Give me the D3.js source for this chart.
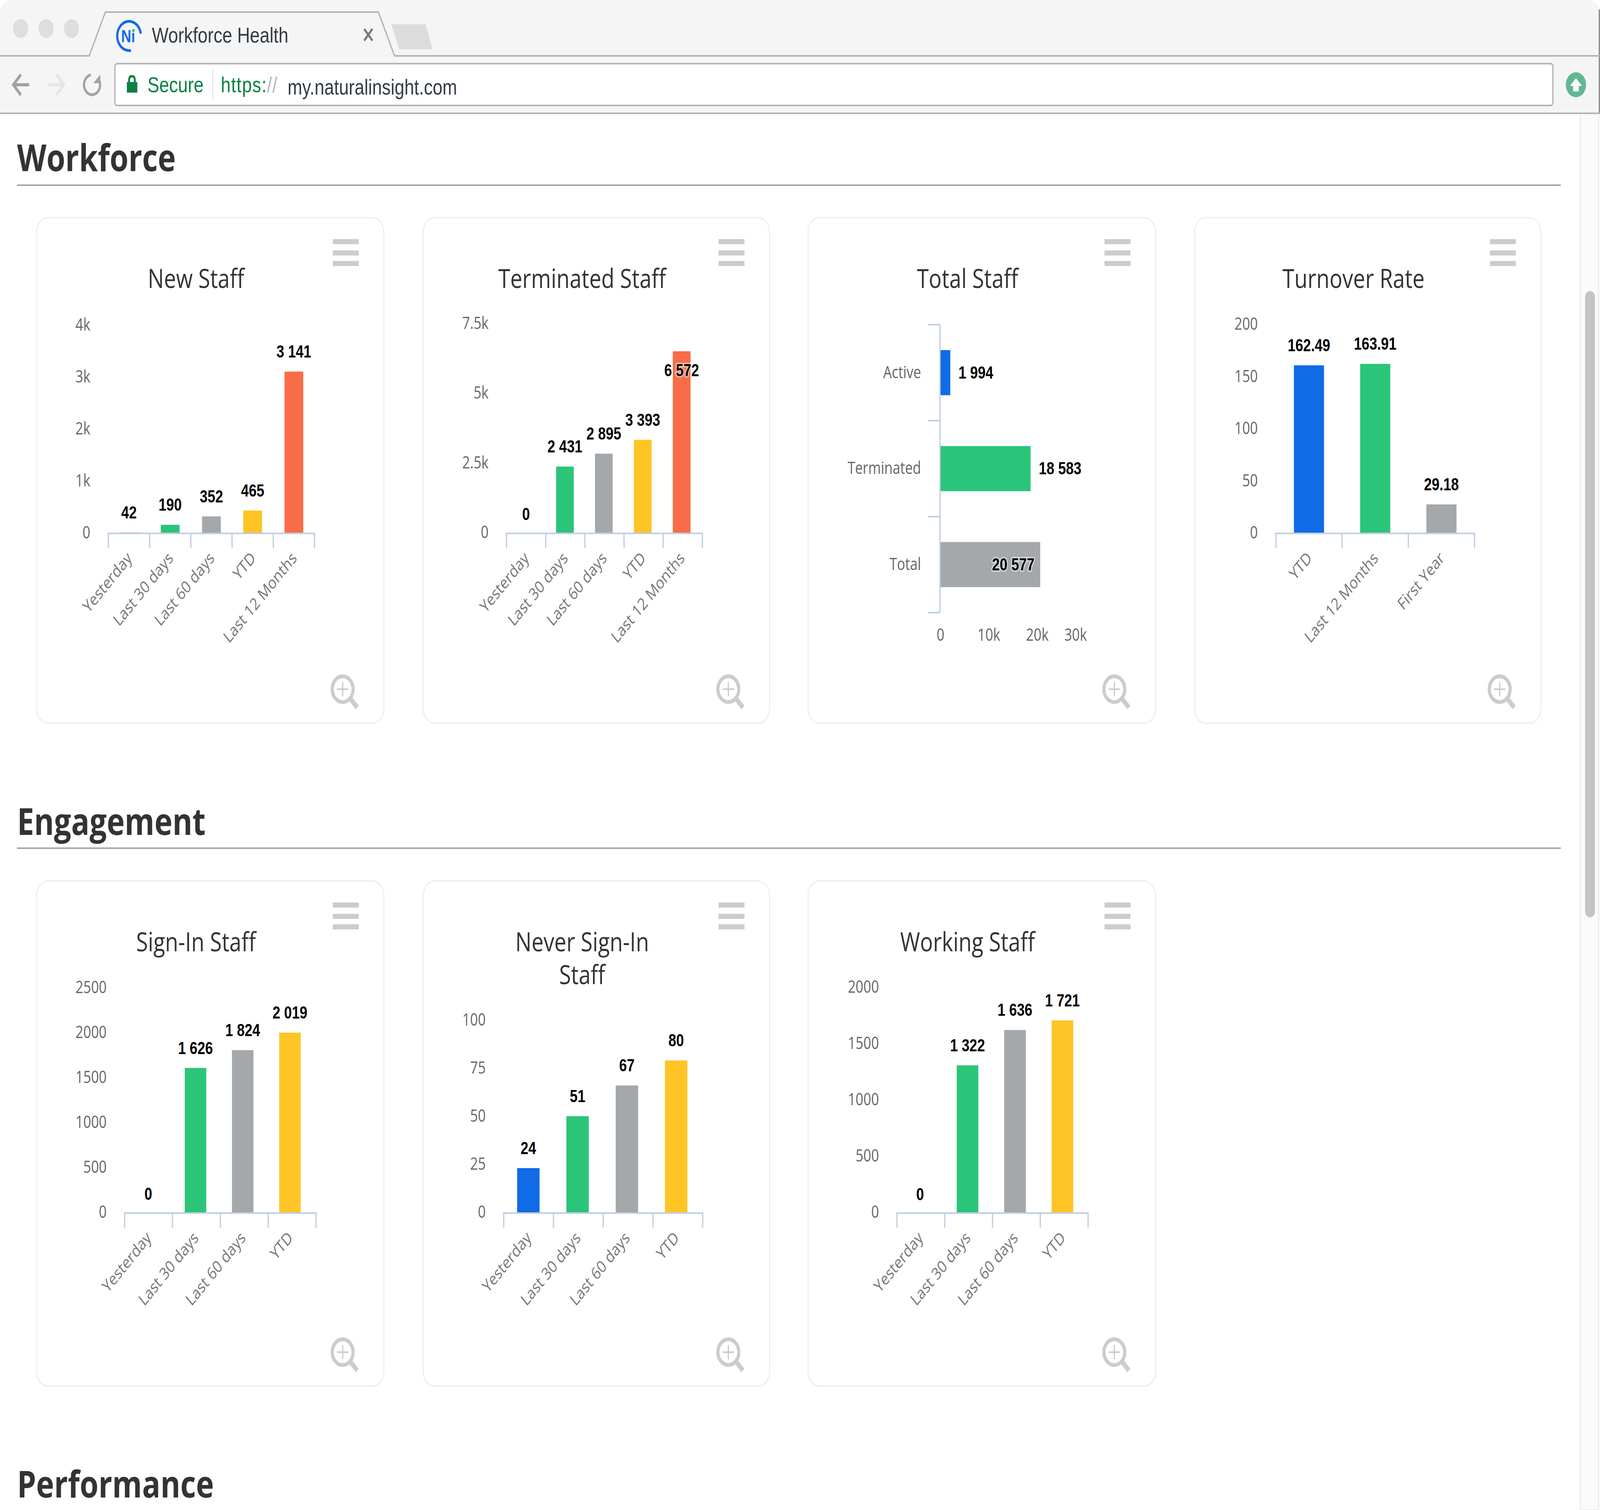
<!DOCTYPE html>
<html>
<head>
<meta charset="utf-8">
<title>Workforce Health</title>
<script src="https://cdn.jsdelivr.net/npm/d3@7"></script>
<style>
  html, body { margin: 0; padding: 0; background: #fff; width: 100%; height: 100%; overflow: hidden; }
  svg { display: block; width: 100%; height: 100%; }
</style>
</head>
<body>
<!-- the browser window can come out narrower than asked, so the drawing fills whatever it gets -->
<svg id="page" viewBox="0 0 5057 3865" preserveAspectRatio="none"></svg>
<script>
// chart values
const shortPeriods = ["Yesterday", "Last 30 days", "Last 60 days", "YTD"];
const longPeriods = ["Yesterday", "Last 30 days", "Last 60 days", "YTD", "Last 12 Months"];
const turnoverPeriods = ["YTD", "Last 12 Months", "First Year"];
const staffKinds = ["Active", "Terminated", "Total"];

const newStaffValues = [42, 190, 352, 465, 3141];
const terminatedValues = [0, 2431, 2895, 3393, 6572];
const totalStaffValues = [1994, 18583, 20577];
const turnoverValues = [162.49, 163.91, 29.18];
const signInValues = [0, 1626, 1824, 2019];
const neverSignInValues = [24, 51, 67, 80];
const workingValues = [0, 1322, 1636, 1721];

const newStaffTicks = [0, 1000, 2000, 3000, 4000];
const newStaffTickLabels = ["0", "1k", "2k", "3k", "4k"];
const terminatedTicks = [0, 2500, 5000, 7500];
const terminatedTickLabels = ["0", "2.5k", "5k", "7.5k"];
const totalStaffTicks = [0, 10000, 20000, 30000];
const totalStaffTickLabels = ["0", "10k", "20k", "30k"];
const turnoverTicks = [0, 50, 100, 150, 200];
const signInTicks = [0, 500, 1000, 1500, 2000, 2500];
const neverSignInTicks = [0, 25, 50, 75, 100];
const workingTicks = [0, 500, 1000, 1500, 2000];

const barColors = ["#106be6", "#2bc57a", "#a4a8ab", "#ffc425", "#f86c47"];

const svg = d3.select("#page");
const sans = "'Open Sans', sans-serif";
const helv = "'Liberation Sans', Arial, sans-serif";
const axisColor = "#bfcfe1";

const numFormat = d3.formatLocale({ decimal: ".", thousands: " ", grouping: [3], currency: ["", ""] });
const fmtInt = numFormat.format(",d");
const fmtDec = numFormat.format(".2f");
const fmtValue = (v) => Number.isInteger(v) ? fmtInt(v) : fmtDec(v);

drawBrowserChrome();

sectionTitle("Workforce", 438, 474);
sectionTitle("Engagement", 2137, 2171);
sectionTitle("Performance", 3833, null);

const row1 = { top: 557, bottom: 1851 };
const row2 = { top: 2255, bottom: 3548 };

card(116, 1213, row1, ["New Staff"]);
card(1338, 2432, row1, ["Terminated Staff"]);
card(2554, 3652, row1, ["Total Staff"]);
card(3776, 4870, row1, ["Turnover Rate"]);
card(116, 1213, row2, ["Sign-In Staff"]);
card(1338, 2432, row2, ["Never Sign-In", "Staff"]);
card(2554, 3652, row2, ["Working Staff"]);

// y[0] is where zero falls, a little below the drawn axis line
columnChart({ categories: longPeriods, values: newStaffValues, ticks: newStaffTicks, tickLabels: newStaffTickLabels,
  x: [342.5, 994], y: [1368.5, 837], axisY: 1365.3, max: 4000 });
columnChart({ categories: longPeriods, values: terminatedValues, ticks: terminatedTicks, tickLabels: terminatedTickLabels,
  x: [1601, 2220], barX: [1601, 2216], y: [1367.5, 833], axisY: 1365.3, max: 7500, inside: 4 });
columnChart({ categories: turnoverPeriods, values: turnoverValues, ticks: turnoverTicks,
  x: [4032.5, 4660.5], y: [1369, 835], axisY: 1365.3, max: 200 });
columnChart({ categories: shortPeriods, values: signInValues, ticks: signInTicks,
  x: [394, 999], barX: [394, 991], y: [3107.5, 2532.5], axisY: 3105, max: 2500 });
columnChart({ categories: shortPeriods, values: neverSignInValues, ticks: neverSignInTicks,
  x: [1592, 2221], barX: [1592, 2215], y: [3108, 2616], axisY: 3105, max: 100 });
columnChart({ categories: shortPeriods, values: workingValues, ticks: workingTicks,
  x: [2835, 3439], barX: [2833, 3433], y: [3107.6, 2531.6], axisY: 3105, max: 2000 });
totalStaffChart();

function styleAxisText(g, size, color) {
  g.attr("font-family", sans).attr("font-size", size);
  g.selectAll("text").attr("fill", color);
  g.select(".domain").remove();
  g.selectAll(".tick line").remove();
}

function columnChart(o) {
  const g = svg.append("g");
  const x = d3.scaleBand().domain(o.categories).range(o.barX || o.x).paddingInner(0.545).paddingOuter(0.2725);
  const y = d3.scaleLinear().domain([0, o.max]).range(o.y);
  const step = (o.x[1] - o.x[0]) / o.categories.length;

  const yAxis = d3.axisLeft(y).tickValues(o.ticks).tickSize(0).tickPadding(57);
  if (o.tickLabels) yAxis.tickFormat((d, i) => o.tickLabels[i]);
  else yAxis.tickFormat(d3.format("d"));
  g.append("g").attr("transform", `translate(${o.x[0]},-5)`).call(yAxis).call(styleAxisText, 43, "#666");

  g.selectAll("rect.bar").data(o.values).join("rect")
    .attr("class", "bar")
    .attr("x", (d, i) => x(o.categories[i]))
    .attr("width", x.bandwidth())
    .attr("y", (d) => y(d))
    .attr("height", (d) => Math.max(0, o.axisY - y(d)))
    .attr("fill", (d, i) => barColors[i]);

  // axis line with ticks on the band edges, highcharts style
  g.append("path")
    .attr("d", d3.line()([[o.x[0] - 2, o.axisY], [o.x[1] + 2, o.axisY]]))
    .attr("stroke", axisColor).attr("stroke-width", 4);
  g.selectAll("line.edge").data(d3.range(o.categories.length + 1)).join("line")
    .attr("class", "edge")
    .attr("x1", (i) => o.x[0] + i * step).attr("x2", (i) => o.x[0] + i * step)
    .attr("y1", o.axisY).attr("y2", o.axisY + 37)
    .attr("stroke", axisColor).attr("stroke-width", 4);

  const xAxis = d3.axisBottom(x).tickSize(0).tickPadding(0);
  g.append("g").attr("transform", `translate(0,${o.axisY})`).call(xAxis).call(styleAxisText, 43, "#777")
    .selectAll("text")
    .attr("text-anchor", "end").attr("dy", 0).attr("y", 0)
    .attr("transform", "translate(12,66) rotate(-45)");

  g.selectAll("text.val").data(o.values).join("text")
    .attr("class", "val")
    .attr("x", (d, i) => x(o.categories[i]) + x.bandwidth() / 2)
    .attr("y", (d, i) => i === o.inside ? y(d) + 64 : y(d) - 36)
    .attr("text-anchor", "middle")
    .call(valueText)
    .text(fmtValue);
}

function valueText(sel) {
  sel.attr("font-family", helv).attr("font-size", 44).attr("font-weight", "bold")
    .attr("fill", "#000")
    .attr("stroke", "rgba(255,255,255,0.55)").attr("stroke-width", 7)
    .attr("stroke-linejoin", "round").attr("paint-order", "stroke");
}

function totalStaffChart() {
  const g = svg.append("g");
  const plotX = [2972, 3431];
  const plotY = [831, 1568];
  const y = d3.scaleBand().domain(staffKinds).range(plotY).paddingInner(0.53).paddingOuter(0.265);
  const x = d3.scaleLinear().domain([0, 30000]).range(plotX);
  const step = (plotY[1] - plotY[0]) / staffKinds.length;

  const catAxis = d3.axisLeft(y).tickSize(0).tickPadding(61);
  g.append("g").attr("transform", `translate(${plotX[0]},0)`).call(catAxis).call(styleAxisText, 43, "#666");

  const valAxis = d3.axisBottom(x).tickValues(totalStaffTicks).tickSize(0).tickPadding(0)
    .tickFormat((d, i) => totalStaffTickLabels[i]);
  const va = g.append("g").attr("transform", `translate(0,${plotY[1]})`).call(valAxis).call(styleAxisText, 43, "#666");
  va.selectAll("text").attr("y", 0).attr("dy", 72);
  // last label gets pushed back inside the chart
  va.selectAll("text").filter((d) => d === 30000).attr("x", -32);

  g.selectAll("rect.bar").data(totalStaffValues).join("rect")
    .attr("class", "bar")
    .attr("x", x(0) + 1)
    .attr("y", (d, i) => y(staffKinds[i]))
    .attr("height", y.bandwidth())
    .attr("width", (d) => x(d) - x(0))
    .attr("fill", (d, i) => barColors[i]);

  g.append("path")
    .attr("d", d3.line()([[plotX[0] - 1, plotY[0]], [plotX[0] - 1, plotY[1]]]))
    .attr("stroke", axisColor).attr("stroke-width", 4);
  g.selectAll("line.edge").data(d3.range(staffKinds.length + 1)).join("line")
    .attr("class", "edge")
    .attr("x1", plotX[0] - 39).attr("x2", plotX[0] - 1)
    .attr("y1", (i) => plotY[0] + i * step).attr("y2", (i) => plotY[0] + i * step)
    .attr("stroke", axisColor).attr("stroke-width", 4);

  g.selectAll("text.val").data(totalStaffValues).join("text")
    .attr("class", "val")
    .attr("x", (d, i) => i === 2 ? x(d) - 17 : x(d) + 27)
    .attr("y", (d, i) => y(staffKinds[i]) + y.bandwidth() / 2 + 15)
    .attr("text-anchor", (d, i) => i === 2 ? "end" : "start")
    .call(valueText)
    .text(fmtValue);
}

function sectionTitle(label, baseline, ruleY) {
  svg.append("text").attr("x", 54).attr("y", baseline)
    .attr("font-family", sans).attr("font-weight", "bold").attr("font-size", 96)
    .attr("fill", "#333").text(label);
  if (ruleY) {
    svg.append("line").attr("x1", 54).attr("x2", 4933).attr("y1", ruleY).attr("y2", ruleY)
      .attr("stroke", "#a6a6a6").attr("stroke-width", 4);
  }
}

function card(left, right, row, titleLines) {
  const g = svg.append("g");
  g.append("rect").attr("x", left).attr("y", row.top)
    .attr("width", right - left).attr("height", row.bottom - row.top)
    .attr("rx", 36).attr("fill", "#fff").attr("stroke", "#eeeeee").attr("stroke-width", 3.5);

  const titleX = (left + right) / 2 - 45;
  titleLines.forEach((t, i) => {
    g.append("text").attr("x", titleX).attr("y", row.top + 180 + i * 84)
      .attr("text-anchor", "middle").attr("font-family", sans).attr("font-size", 68)
      .attr("fill", "#333").text(t);
  });

  // hamburger menu
  [55, 84, 111].forEach((dy) => {
    g.append("rect").attr("x", right - 161).attr("y", row.top + dy)
      .attr("width", 82).attr("height", 13).attr("fill", "#cccccc");
  });

  // magnifier
  const cx = right - 130, cy = row.bottom - 87;
  g.append("circle").attr("cx", cx).attr("cy", cy).attr("r", 33)
    .attr("fill", "none").attr("stroke", "#cccccc").attr("stroke-width", 10);
  g.append("line").attr("x1", cx + 24).attr("y1", cy + 24).attr("x2", cx + 46).attr("y2", cy + 47)
    .attr("stroke", "#cccccc").attr("stroke-width", 13);
  g.append("path").attr("d", `M${cx - 18},${cy}H${cx + 18}M${cx},${cy - 18}V${cy + 18}`)
    .attr("stroke", "#cccccc").attr("stroke-width", 4);
}

function drawBrowserChrome() {
  const g = svg.append("g");
  g.append("path").attr("d", "M0,290V40Q0,0 40,0H5017Q5057,0 5057,40V290Z").attr("fill", "#f5f5f5");

  // scrollbar
  g.append("rect").attr("x", 4995).attr("y", 290).attr("width", 58).attr("height", 3575)
    .attr("fill", "#fafafa").attr("stroke", "#e8e8e8").attr("stroke-width", 3);
  g.append("rect").attr("x", 5010).attr("y", 745).attr("width", 31).attr("height", 1603)
    .attr("rx", 15).attr("fill", "#c4c4c4");
  g.append("line").attr("x1", 5055).attr("x2", 5055).attr("y1", 24).attr("y2", 290)
    .attr("stroke", "#8f8a96").attr("stroke-width", 4);

  // tab outline
  g.append("path").attr("d", "M0,143H282L333,31H1196L1247,143H5057")
    .attr("fill", "none").attr("stroke", "#b3b3b3").attr("stroke-width", 4);
  g.append("path").attr("d", "M1237,62H1345L1367,126H1262Z").attr("fill", "#dcdcdc");

  [65, 146, 226].forEach((cx) => {
    g.append("circle").attr("cx", cx).attr("cy", 73).attr("r", 24).attr("fill", "#dedede");
  });

  // favicon
  const ring = d3.arc().innerRadius(34).outerRadius(41).startAngle(Math.PI * 0.95).endAngle(Math.PI * 2.45);
  g.append("path").attr("d", ring()).attr("transform", "translate(408,92)").attr("fill", "#116be8");
  g.append("text").attr("x", 405).attr("y", 108).attr("text-anchor", "middle")
    .attr("font-family", helv).attr("font-weight", "bold").attr("font-size", 44).attr("fill", "#116be8").text("Ni");
  g.append("circle").attr("cx", 422).attr("cy", 78).attr("r", 4).attr("fill", "#2bc57a");

  g.append("text").attr("x", 480).attr("y", 109).attr("font-family", helv).attr("font-size", 56)
    .attr("fill", "#333b44").text("Workforce Health");
  g.append("path").attr("d", "M1151,74L1177,104M1177,74L1151,104").attr("stroke", "#777").attr("stroke-width", 6);

  // toolbar
  g.append("line").attr("x1", 0).attr("x2", 5057).attr("y1", 290).attr("y2", 290)
    .attr("stroke", "#b3b3b3").attr("stroke-width", 4);
  g.append("rect").attr("x", 363).attr("y", 163).attr("width", 4545).attr("height", 107)
    .attr("rx", 7).attr("fill", "#fff").attr("stroke", "#b4b4b4").attr("stroke-width", 4);

  g.append("path").attr("d", "M92,217H44M66,191L42,217L66,243").attr("fill", "none")
    .attr("stroke", "#a2a2a2").attr("stroke-width", 8);
  g.append("path").attr("d", "M152,217H200M178,191L202,217L178,243").attr("fill", "none")
    .attr("stroke", "#e6e6e6").attr("stroke-width", 8);
  const reload = d3.arc().innerRadius(22).outerRadius(29).startAngle(Math.PI * 0.35).endAngle(Math.PI * 1.95);
  g.append("path").attr("d", reload()).attr("transform", "translate(291,217)").attr("fill", "#a2a2a2");
  g.append("path").attr("d", "M317,191V213H295Z").attr("fill", "#a2a2a2");

  // lock
  g.append("rect").attr("x", 401).attr("y", 210).attr("width", 33).attr("height", 27).attr("fill", "#0b8043");
  g.append("path").attr("d", "M408,212V205Q408,195 417,195Q426,195 426,205V212").attr("fill", "none")
    .attr("stroke", "#0b8043").attr("stroke-width", 6);
  g.append("text").attr("x", 466).attr("y", 236).attr("font-family", helv).attr("font-size", 56)
    .attr("fill", "#0b8043").text("Secure");
  g.append("line").attr("x1", 672).attr("x2", 672).attr("y1", 177).attr("y2", 257)
    .attr("stroke", "#e4e4e4").attr("stroke-width", 3);
  const proto = g.append("text").attr("x", 698).attr("y", 236).attr("font-family", helv).attr("font-size", 56)
    .attr("letter-spacing", 1.5);
  proto.append("tspan").attr("fill", "#0b8043").text("https:");
  proto.append("tspan").attr("fill", "#b5b5b5").text("//");
  g.append("text").attr("x", 909).attr("y", 242).attr("font-family", helv).attr("font-size", 55.5)
    .attr("fill", "#333b44").text("my.naturalinsight.com");

  // extension button
  g.append("circle").attr("cx", 4981).attr("cy", 217).attr("r", 32).attr("fill", "#62b795");
  g.append("path").attr("d", "M4981,200L5000,220H4990V234H4972V220H4962Z").attr("fill", "#fff");
}
</script>
</body>
</html>
